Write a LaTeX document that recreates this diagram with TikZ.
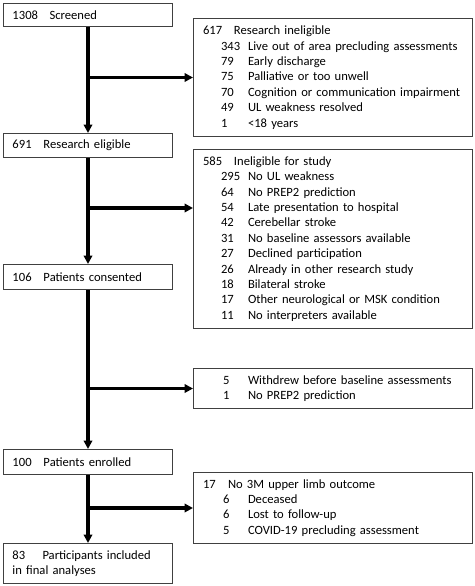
\documentclass[tikz,border=0pt]{standalone}
\usepackage{fontspec}
\setmainfont{Carlito}
\usetikzlibrary{positioning,arrows.meta}
\newcommand{\hd}[3][31]{\mbox{\makebox[#1pt][l]{#2}#3}}
\newcommand{\sub}[3][18]{\mbox{\makebox[45pt][l]{\hspace*{#1pt}#2}#3}}
\tikzset{
  mainbox/.style = {draw=black!75, line width=1pt, anchor=north west, align=left,
                    font=\fontsize{12.6}{15.4}\selectfont, inner xsep=9pt, inner ysep=0pt,
                    text width=151pt, minimum height=#1},
  sidebox/.style = {mainbox=#1, inner xsep=9.5pt, text width=260pt},
  flow/.style    = {line width=3.2pt, -{Triangle[length=8.5pt,width=8.5pt]}},
}

\begin{document}
\begin{tikzpicture}[x=1pt, y=-1pt]
\useasboundingbox (0,0) rectangle (474,586);

%-- main column
\node[mainbox=23pt] (scr)   at (3,3)   {\hd[37]{1308}{Screened}};
\node[mainbox=24pt] (elig)  at (3,133) {\hd{691}{Research eligible}};
\node[mainbox=25pt] (cons)  at (3,264) {\hd{106}{Patients consented}};
\node[mainbox=25pt] (enrol) at (3,449) {\hd{100}{Patients enrolled}};
\node[mainbox=40pt] (incl)  at (3,543) {\hd[30]{83}{Participants included}\\\mbox{in final analyses}};

%-- exclusion boxes
\node[sidebox=118pt] (resinel) at (193,18) {\hd{617}{Research ineligible}\\
  \sub{343}{Live out of area precluding assessments}\\
  \sub{79}{Early discharge}\\
  \sub{75}{Palliative or too unwell}\\
  \sub{70}{Cognition or communication impairment}\\
  \sub{49}{UL weakness resolved}\\
  \sub{1}{<18 years}};
\node[sidebox=179pt] (studinel) at (193,149) {\hd{585}{Ineligible for study}\\
  \sub{295}{No UL weakness}\\
  \sub{64}{No PREP2 prediction}\\
  \sub{54}{Late presentation to hospital}\\
  \sub{42}{Cerebellar stroke}\\
  \sub{31}{No baseline assessors available}\\
  \sub{27}{Declined participation}\\
  \sub{26}{Already in other research study}\\
  \sub{18}{Bilateral stroke}\\
  \sub{17}{Other neurological or MSK condition}\\
  \sub{11}{No interpreters available}};
\node[sidebox=40pt] (withdr) at (193,368) {\sub[20]{5}{Withdrew before baseline assessments}\\
  \sub[20]{1}{No PREP2 prediction}};
\node[sidebox=71pt] (nooutc) at (193,472) {\hd[25]{17}{No 3M upper limb outcome}\\
  \sub[20]{6}{Deceased}\\
  \sub[20]{6}{Lost to follow-up}\\
  \sub[20]{5}{COVID-19 precluding assessment}};

%-- flow down the main column
\draw[flow] (scr.south)   -- (elig.north);
\draw[flow] (elig.south)  -- (cons.north);
\draw[flow] (cons.south)  -- (enrol.north);
\draw[flow] (enrol.south) -- (incl.north);

%-- branches to the right
\coordinate (late) at (193,208);
\draw[flow] (scr.south |- resinel.west) -- (resinel.west);
\draw[flow] (elig.south |- late) -- (late);
\draw[flow] (cons.south |- withdr.west) -- (withdr.west);
\draw[flow] (enrol.south |- nooutc.west) -- (nooutc.west);

\end{tikzpicture}
\end{document}
